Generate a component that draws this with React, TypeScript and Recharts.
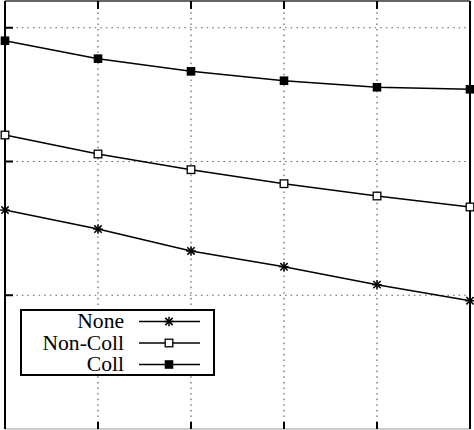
import React from "react";
import { LineChart, Line, XAxis, YAxis, CartesianGrid, Legend } from "recharts";

// x positions (tick index) and series values
const steps = [0, 1, 2, 3, 4, 5];
const none = [1.637, 1.495, 1.331, 1.213, 1.079, 0.959];
const nonColl = [2.198, 2.056, 1.939, 1.834, 1.742, 1.66];
const coll = [2.903, 2.769, 2.674, 2.604, 2.555, 2.54];
const yTicks = [1, 2, 3];

const data = steps.map((s, i) => ({ x: s, none: none[i], nonColl: nonColl[i], coll: coll[i] }));

type Mark = "star" | "open" | "filled";

const series: { key: string; name: string; mark: Mark }[] = [
  { key: "none", name: "None", mark: "star" },
  { key: "nonColl", name: "Non-Coll", mark: "open" },
  { key: "coll", name: "Coll", mark: "filled" },
];

function Marker({ cx, cy, mark }: { cx: number; cy: number; mark: Mark }) {
  const r = 4.3;
  if (mark === "filled") {
    return <rect x={cx - r} y={cy - r} width={2 * r} height={2 * r} fill="#000" />;
  }
  if (mark === "open") {
    return <rect x={cx - r + 0.5} y={cy - r + 0.5} width={2 * r - 1} height={2 * r - 1} fill="#fff" stroke="#000" strokeWidth={1.3} />;
  }
  const d = r * 0.85;
  return (
    <g stroke="#000" strokeWidth={1.5}>
      <line x1={cx - r - 0.5} y1={cy} x2={cx + r + 0.5} y2={cy} />
      <line x1={cx} y1={cy - r - 0.5} x2={cx} y2={cy + r + 0.5} />
      <line x1={cx - d} y1={cy - d} x2={cx + d} y2={cy + d} />
      <line x1={cx - d} y1={cy + d} x2={cx + d} y2={cy - d} />
    </g>
  );
}

function makeDot(mark: Mark) {
  return (p: any) => <Marker key={p.index} cx={p.cx} cy={p.cy} mark={mark} />;
}

const noTick = () => <g />;

function LegendBox() {
  return (
    <svg width={195} height={67} style={{ display: "block" }}>
      <rect x={1} y={1} width={193} height={65} fill="#fff" stroke="#000" strokeWidth={2} />
      {series.map((s, i) => {
        const cy = 12.5 + i * 21.5;
        return (
          <g key={s.key}>
            <g transform={`translate(104 ${cy}) scale(1.08 1)`}>
              <text x={0} y={0} textAnchor="end" dominantBaseline="central" fontFamily="Liberation Serif, Times New Roman, serif" fontSize={20} fill="#000">
                {s.name}
              </text>
            </g>
            <line x1={119} y1={cy} x2={180} y2={cy} stroke="#000" strokeWidth={1.5} />
            <Marker cx={149} cy={cy} mark={s.mark} />
          </g>
        );
      })}
    </svg>
  );
}

export default function App() {
  return (
    <div style={{ position: "absolute", left: 0, top: 0, width: 474, height: 430, background: "#fff" }}>
      <LineChart width={474} height={430} data={data} margin={{ top: 1, right: 4, bottom: 1, left: 5 }}>
        <CartesianGrid xAxisId="b" yAxisId="l" stroke="#666" strokeDasharray="1.6 4" strokeWidth={1.2} horizontalValues={yTicks} />
        <XAxis
          xAxisId="b"
          dataKey="x"
          type="number"
          domain={[0, 5]}
          ticks={steps}
          mirror
          tick={noTick}
          tickSize={7}
          axisLine={{ stroke: "#ccc", strokeWidth: 2 }}
          tickLine={{ stroke: "#000", strokeWidth: 2 }}
        />
        <XAxis
          xAxisId="t"
          orientation="top"
          dataKey="x"
          type="number"
          domain={[0, 5]}
          ticks={steps}
          mirror
          tick={noTick}
          tickSize={8}
          axisLine={{ stroke: "#666", strokeWidth: 2 }}
          tickLine={{ stroke: "#000", strokeWidth: 2 }}
        />
        <YAxis
          yAxisId="l"
          type="number"
          domain={[0, 3.2]}
          ticks={yTicks}
          mirror
          tick={noTick}
          tickSize={8}
          axisLine={{ stroke: "#000", strokeWidth: 2 }}
          tickLine={{ stroke: "#000", strokeWidth: 2 }}
        />
        <YAxis
          yAxisId="r"
          orientation="right"
          type="number"
          domain={[0, 3.2]}
          ticks={yTicks}
          mirror
          tick={noTick}
          tickSize={8}
          axisLine={{ stroke: "#000", strokeWidth: 2 }}
          tickLine={{ stroke: "#000", strokeWidth: 2 }}
        />
        {series.map((s) => (
          <Line
            key={s.key}
            xAxisId="b"
            yAxisId="l"
            dataKey={s.key}
            name={s.name}
            type="linear"
            stroke="#000"
            strokeWidth={1.5}
            dot={makeDot(s.mark)}
            activeDot={false}
            isAnimationActive={false}
          />
        ))}
        <Legend
          layout="vertical"
          align="center"
          verticalAlign="middle"
          content={() => <LegendBox />}
          wrapperStyle={{ left: 20, top: 309, width: 195, height: 67 }}
        />
      </LineChart>
    </div>
  );
}
